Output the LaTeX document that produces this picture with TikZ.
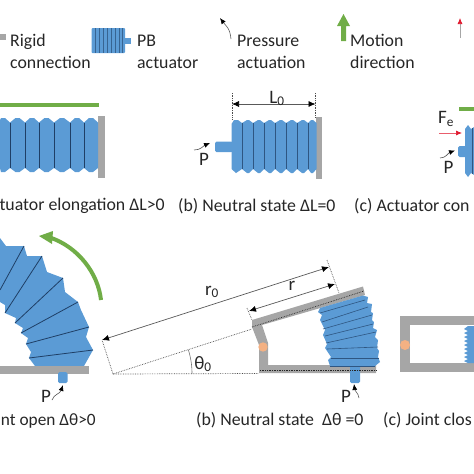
\documentclass[tikz,border=0pt]{standalone}
\usepackage{fontspec}
\setmainfont{Carlito}
\usetikzlibrary{arrows.meta}
\definecolor{pbblue}{HTML}{5B9BD5}
\definecolor{pbline}{HTML}{1F3F66}
\definecolor{rigid}{HTML}{A6A6A6}
\definecolor{mgreen}{HTML}{70AD47}
\definecolor{mred}{HTML}{E0182D}
\definecolor{joint}{HTML}{F4B183}
\tikzset{
 lbl/.style={inner sep=0pt,anchor=base west,font=\fontsize{17.8}{18}\selectfont,text=black!85},
 blbl/.style={inner sep=0pt,font=\fontsize{19}{20}\selectfont,text=black!85},
 pb/.style={fill=pbblue,draw=none},
 div/.style={draw=pbline,line width=.8pt},
 thin div/.style={draw=pbline!75!pbblue,line width=.6pt},
 bar/.style={fill=rigid,draw=none},
 dots/.style={draw=black!70,densely dotted,line width=.7pt},
 dim/.style={draw=black!65,line width=.7pt,{Latex[length=7pt,width=6pt,black]}-{Latex[length=7pt,width=6pt,black]}},
 press/.style={draw=black!65,line width=.6pt,-{Latex[length=6pt,width=5pt,black]}},
 green/.style={draw=mgreen,line width=4pt},
}
\begin{document}
\begin{tikzpicture}[x=1pt,y=-1pt]
\useasboundingbox (0,0) rectangle (474,474);
% legend
\fill[bar] (0,34) rectangle (5.5,40);
\node[lbl] (t1) at (10,46.5) {Rigid};
\node[lbl] (t2) at (10,68.5) {connection};
\fill[pb] (125,38) rectangle (131,44);
\fill[pb,rounded corners=1pt] (91.5,28) rectangle (125,53);
\foreach \x in {95,99,103,107,111,115,119,122.5} \draw[draw=pbline!60!pbblue,line width=.5pt] (\x,28) -- (\x,53);
\node[lbl] (t3) at (137,46.5) {PB};
\node[lbl] (t4) at (137,68.5) {actuator};
\coordinate (pa) at (231,39); \coordinate (pb1) at (220,18);
\draw[press] (pa) .. controls (230,28) and (226,26) .. (pb1);
\node[lbl] (t5) at (237,46.5) {Pressure};
\node[lbl] (t6) at (237,68.5) {actuation};
\fill[mgreen] (341,41) -- (346,41) -- (346,26) -- (350,26) -- (343.5,14) -- (337,26) -- (341,26) -- cycle;
\node[lbl] (t7) at (350,46.5) {Motion};
\node[lbl] (t8) at (350,68.5) {direction};
\coordinate (ra) at (460,38); \coordinate (rb) at (460,18);
\draw[draw=black!35,line width=.7pt,-{Latex[length=6pt,width=5pt,mred]}] (ra) -- (rb);
% row 1 a
\draw[green] (0,104.5) -- (98.5,104.5);
\fill[bar] (98,116) rectangle (105,178);
\fill[pb] (0,120)
 \foreach \c/\d in {3/10,17.5/25,32/39,46.5/54,62/70,77/84,91/98} { -- (\c-2,118) -- (\c+2,118) -- (\d,122.5) }
 -- (98,168)
 \foreach \c/\d in {91/84,77/70,62/54,46.5/39,32/25,17.5/10,3/0} { -- (\c+2,172) -- (\c-2,172) -- (\d,168) }
 -- cycle;
\foreach \x in {10,25,39,54,70,84} \draw[div] (\x,122.5) -- (\x,168);
\node[lbl,anchor=base east] (capa) at (165,210.7) {tuator elongation ΔL>0};
% row 1 b
\fill[bar] (316,117) rectangle (322,179);
\fill[pb,rounded corners=1.5pt] (215,141.5) rectangle (233,152);
\fill[pb] (231.5,124) -- (234,120)
 \foreach \c/\d in {237/242,248/253,259/264,270/275,281/286,292/297,303/308,312/316.5} { -- (\c-1,120) -- (\c+1,120) -- (\d,123) }
 -- (316.5,169)
 \foreach \c/\d in {312/308,303/297,292/286,281/275,270/264,259/253,248/242} { -- (\c+1,173) -- (\c-1,173) -- (\d,169) }
 -- (236,173) -- (231.5,169) -- cycle;
\foreach \x in {242,253,264,275,286,297,308} \draw[thin div] (\x,123) -- (\x,169);
\coordinate (l0a) at (232,104); \coordinate (l0b) at (315.5,104);
\draw[dots] (232,93) -- (232,119); \draw[dots] (315.5,93) -- (315.5,117);
\draw[dim] (l0a) -- (l0b);
\node[blbl] (l0) at (277,98.5) {L\textsubscript{0}};
\coordinate (p1a) at (194,150); \coordinate (p1b) at (210,143);
\draw[press] (p1a) .. controls (201,150) and (203,146) .. (p1b);
\node[blbl] (p1) at (204,159.5) {P};
\node[lbl] (capb) at (178,211.5) {(b) Neutral state ΔL=0};
% row 1 c
\draw[green] (459,108.5) -- (474,108.5);
\fill[pb,rounded corners=1.5pt] (458,146) rectangle (467,157);
\fill[pb] (465,129) -- (468,125) -- (471,129) -- (474,127) -- (474,175) -- (471,173) -- (468,177) -- (465,173) -- cycle;
\draw[thin div] (472.7,128) -- (472.7,174);
\node[blbl] (fe) at (446,119) {F\textsubscript{e}};
\coordinate (f1) at (439,133); \coordinate (f2) at (462,133);
\draw[draw=mred!70,line width=.7pt,-{Latex[length=6pt,width=5pt,mred]}] (f1) -- (f2);
\coordinate (p2a) at (440,158); \coordinate (p2b) at (455,150.5);
\draw[press] (p2a) .. controls (446,158) and (448,153) .. (p2b);
\node[blbl] (p2) at (448.5,167) {P};
\node[lbl] (capc) at (354,211.5) {(c) Actuator con};
% row 2 a
\fill[pb] (35,366) -- (29,358) -- (31,352) -- (26,344) -- (28,338) -- (21,333) -- (23,328) -- (15,323) -- (16,318) -- (5,313) -- (5,305) -- (0,302)
 -- (0,238) -- (6,246) -- (24,246) -- (27,256) -- (42,256) -- (47,272) -- (63,278) -- (65,292) -- (78,302) -- (81,310) -- (89,327) -- (86,337) -- (93,350) -- (84,366) -- cycle;
\draw[div] (29,358) -- (93,350);
\draw[div] (26,344) -- (89,327);
\draw[div] (21,333) -- (78,302);
\draw[div] (15,323) -- (63,278);
\draw[div] (5,313) -- (42,256);
\draw[div] (0,290) -- (24,246);
\fill[bar] (0,366) rectangle (88.5,374);
\fill[pb,rounded corners=1.5pt] (58,372) rectangle (67.5,383);
\coordinate (g1) at (101,300); \coordinate (g2) at (50,237.5);
\draw[draw=mgreen,line width=4pt] (g1) .. controls (98,273) and (78,247) .. (g2);
\fill[mgreen] (39,236) -- (53,231) -- (52,244) -- cycle;
\coordinate (p3a) at (52,400); \coordinate (p3b) at (63,385);
\draw[press] (p3a) .. controls (54,394) and (60,394) .. (p3b);
\node[blbl] (p3) at (46,396.5) {P};
\node[lbl,anchor=base east,font=\fontsize{17.3}{18}\selectfont] (capd) at (96,425.7) {nt open Δθ>0};
% dim lines
\coordinate (ap) at (113,374);
\draw[dots] (ap) -- (259,373.5);
\draw[dots] (ap) -- (102,340);
\draw[dots] (ap) -- (252,329);
\draw[dots] (247,308) -- (252,320);
\draw[dots] (327,260) -- (339,293);
\coordinate (r0a) at (102,340); \coordinate (r0b) at (329,267);
\draw[dim] (r0a) -- (r0b);
\coordinate (ra1) at (249,311); \coordinate (rb1) at (335,284);
\draw[dim] (ra1) -- (rb1);
\node[blbl] (r0) at (212,292) {r\textsubscript{0}};
\node[blbl] (r1) at (292,286) {r};
\node[blbl] (th) at (203,364) {θ\textsubscript{0}};
\draw[draw=black!55,line width=.6pt] (192,373.5) arc (0:-17.5:79);
% row 2 b
\fill[bar] (259,373) -- (259,345) -- (252,327) -- (252,320) -- (363,286.5) -- (365,295) -- (262,325) -- (268,343) -- (268,365) -- (376,365) -- (376,373) -- cycle;
\fill[pb,rounded corners=1.5pt] (350,364) rectangle (360,383);
\fill[pb] (330,366) -- (328,360) -- (331,357) -- (325,348) -- (327,344) -- (323,335) -- (325,330) -- (320,320) -- (322,315) -- (318,312) -- (320,308)
 -- (363,295.5) -- (368,297) -- (367,303) -- (372,304) -- (371,312) -- (373,313) -- (372,320) -- (374,322) -- (373,328) -- (377,330) -- (375,337) -- (378,340) -- (377,348) -- (379,351) -- (378,357) -- (380,362) -- (375,366) -- cycle;
\draw[dots,draw=black!85] (252,327) -- (364,291);
\draw[dots,draw=black!85] (260,370) -- (376,370);
\draw[thin div] (320,313) -- (365,300);
\draw[thin div] (322,322) -- (368,307);
\draw[thin div] (323,329) -- (372,315);
\draw[thin div] (325,336) -- (373,324);
\draw[thin div] (326,343) -- (376,332);
\draw[thin div] (327,349) -- (378,347);
\draw[thin div] (331,358) -- (379,358);
\draw[thin div] (330,366) -- (375,366);
\fill[joint] (263,347) circle (4.7);
\coordinate (p4a) at (359,398); \coordinate (p4b) at (354,384);
\draw[press] (p4a) .. controls (358,392) and (355,392) .. (p4b);
\node[blbl] (p4) at (346,396) {P};
\node[lbl] (cape) at (196,425.7) {(b) Neutral state\ \ Δθ =0};
% row 2 c
\fill[bar] (400,316) rectangle (474,372);
\fill[white] (410,325) rectangle (474,363);
\fill[pb] (468,326) \foreach \y in {329,333,337,341,345,349,353,357,361} { -- (464,\y) -- (468,\y+2) } -- (474,363) -- (474,326) -- cycle;
\fill[joint] (405,345) circle (5);
\node[lbl] (capf) at (383,425.7) {(c) Joint clos};
\end{tikzpicture}
\end{document}
